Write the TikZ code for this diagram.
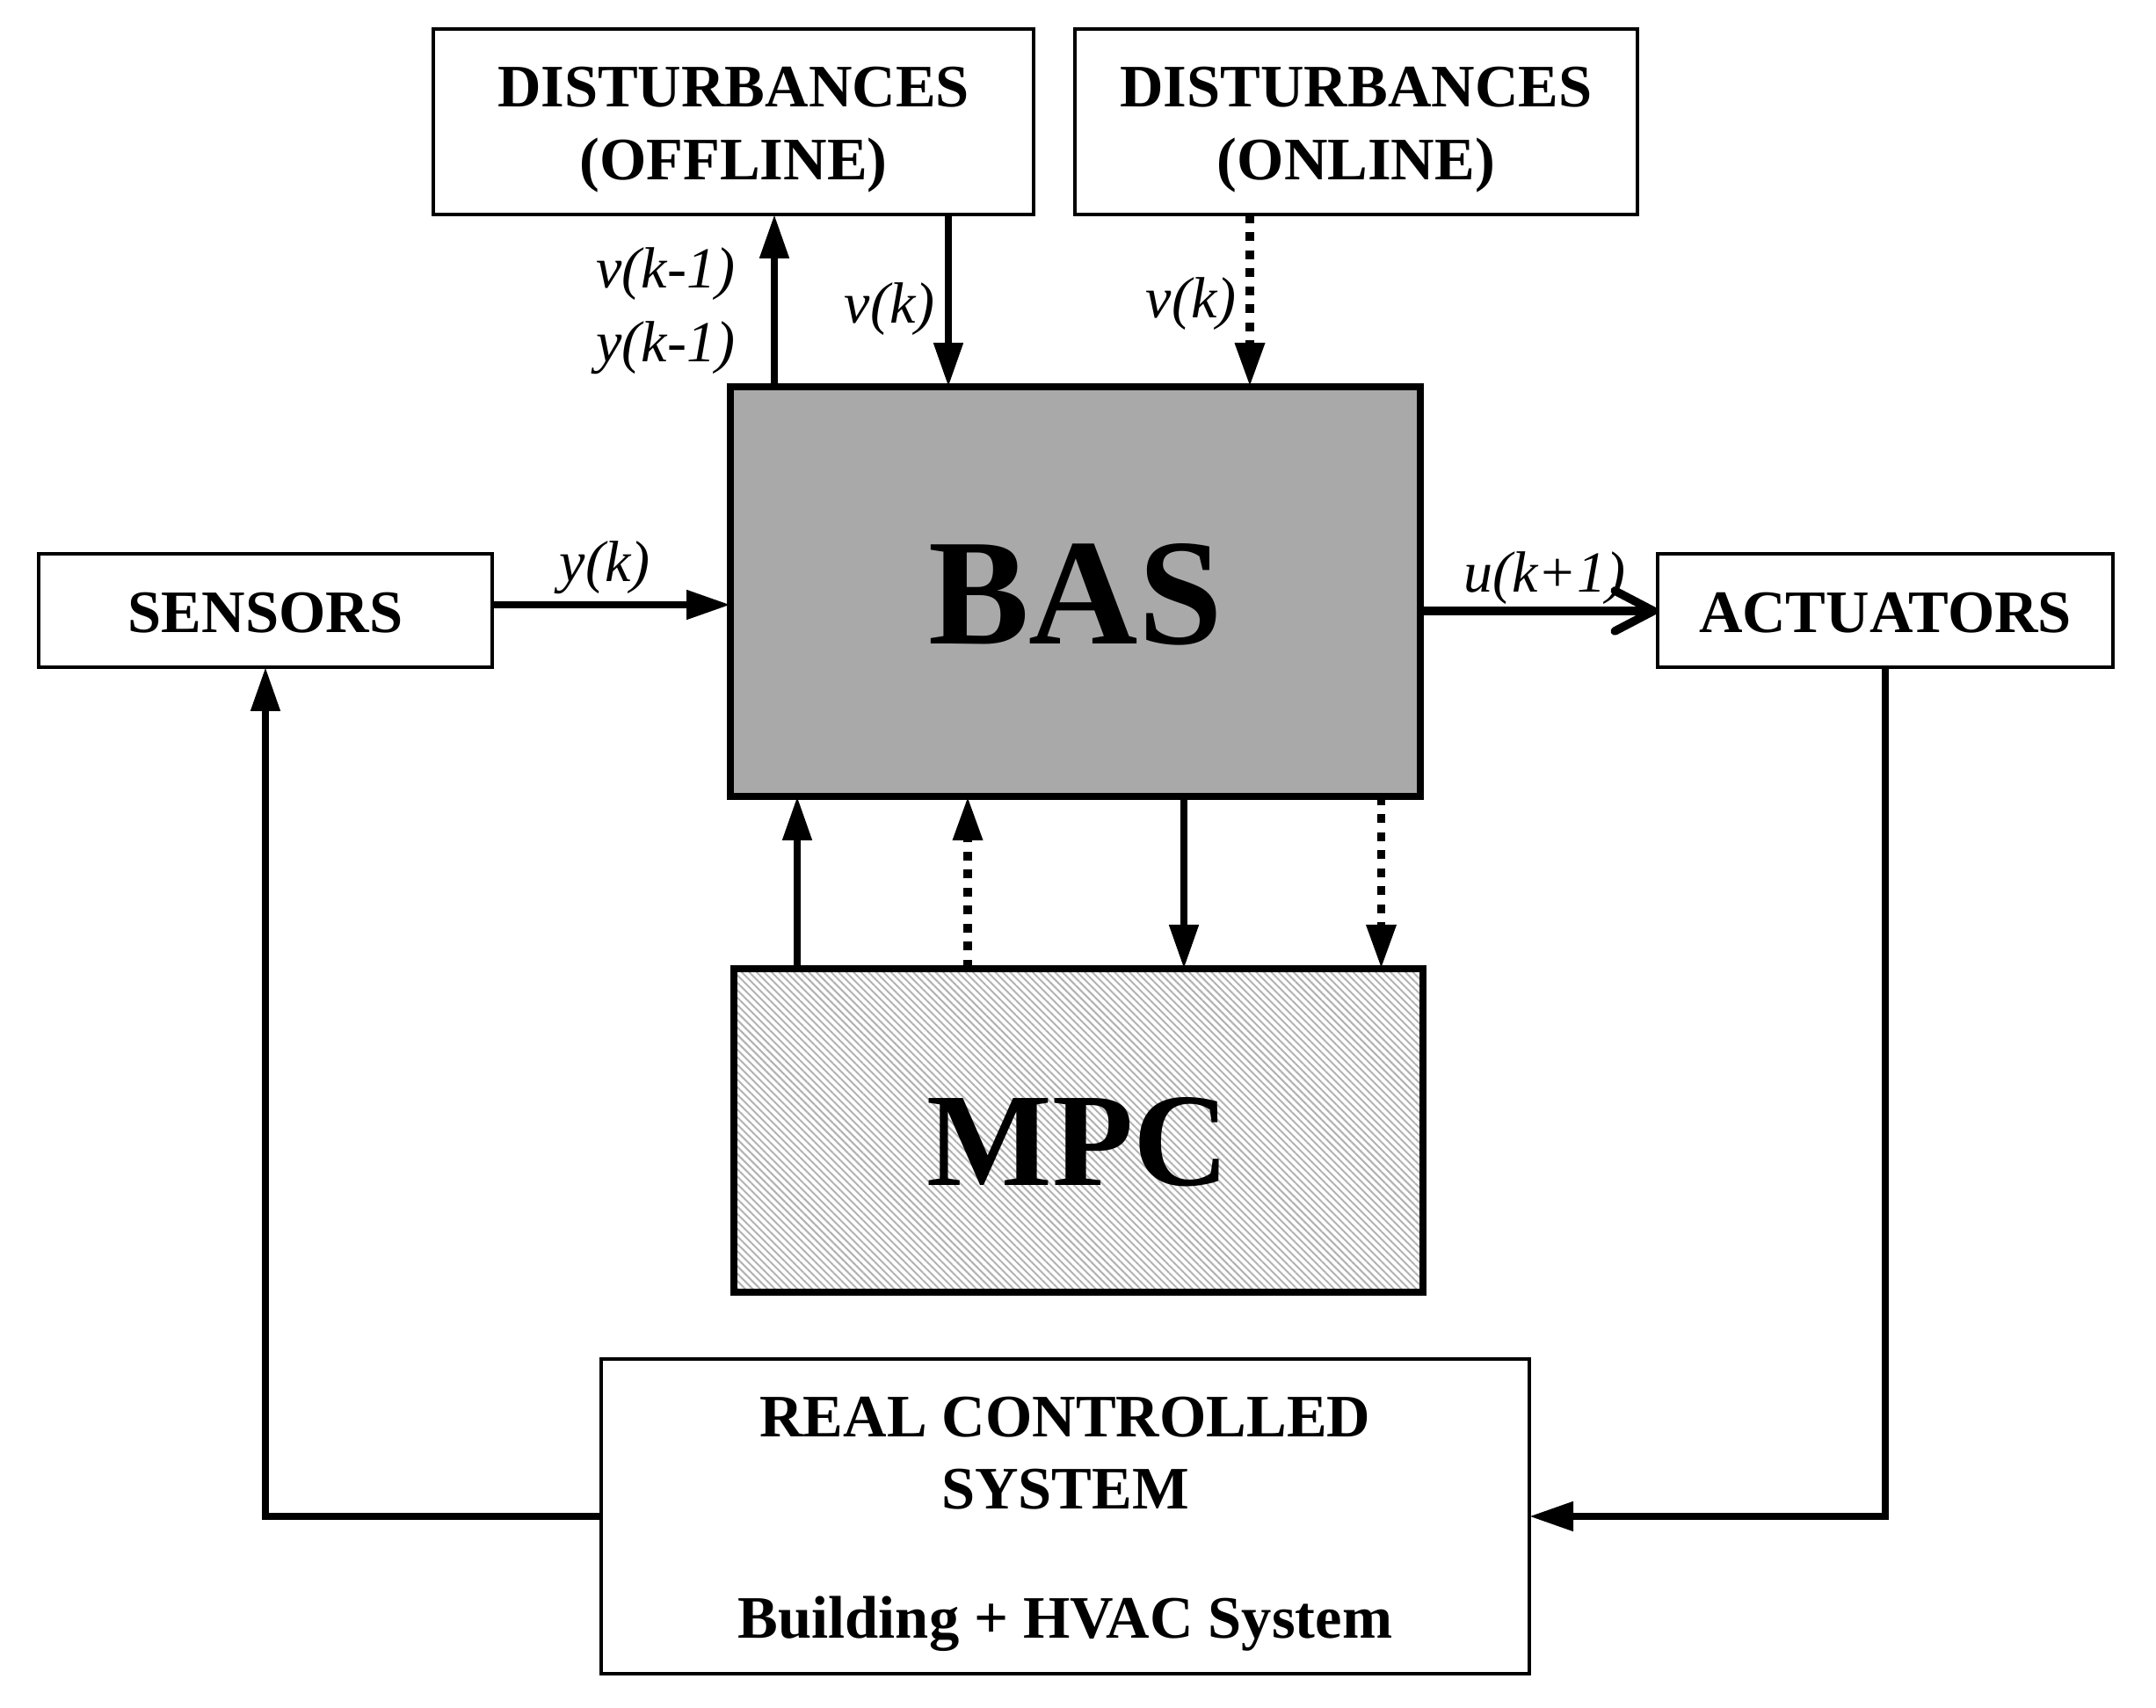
\documentclass[tikz,border=0pt]{standalone}
\usepackage{fontspec}
\setmainfont{Liberation Serif}
\usetikzlibrary{positioning,calc,patterns.meta,arrows.meta}

\tikzset{
    thinbox/.style={draw, line width=0.04cm, inner sep=0pt, outer sep=0pt, align=center, font=\fontsize{19.5}{23.6}\selectfont\bfseries},
    thickbox/.style={draw, line width=0.08cm, inner sep=0pt, outer sep=0pt, align=center},
    flow/.style={line width=0.08cm, -{Triangle[length=0.5cm,width=0.32cm]}},
    flowdot/.style={flow, line width=0.095cm, dash pattern=on 0.1cm off 0.105cm},
    sig/.style={font=\fontsize{18.8}{23}\selectfont\itshape, inner sep=0pt}
}
% pushes the text of a block down
\newcommand{\lowered}[1]{\rule{0pt}{#1}}

\begin{document}
\begin{tikzpicture}
    \useasboundingbox (0,0) rectangle (24.53,19.42);

    % Upper blocks
    \node[thinbox, minimum width=6.83cm, minimum height=2.11cm] (offline) at (8.345,18.035) {\lowered{0.63cm}DISTURBANCES\\(OFFLINE)};
    \node[thinbox, minimum width=6.40cm, minimum height=2.11cm] (online) at (15.43,18.035) {\lowered{0.63cm}DISTURBANCES\\(ONLINE)};
    \node[thinbox, minimum width=5.16cm, minimum height=1.29cm] (sensors) at (3.02,12.475) {\lowered{0.51cm}SENSORS};
    \node[thinbox, minimum width=5.18cm, minimum height=1.29cm] (actuators) at (21.45,12.475) {\lowered{0.51cm}ACTUATORS};

    % Controller blocks
    \node[thickbox, fill={rgb,255:red,169;green,169;blue,169}, minimum width=7.85cm, minimum height=4.66cm,
        font=\fontsize{49}{50}\selectfont\bfseries] (bas) at (12.235,12.69) {\lowered{1.2cm}BAS};
    \node[thickbox, pattern={Lines[angle=-45,distance=0.06cm,line width=0.02cm]}, pattern color=black!30,
        minimum width=7.84cm, minimum height=3.68cm,
        font=\fontsize{43}{44}\selectfont\bfseries] (mpc) at (12.27,6.56) {\lowered{1.27cm}MPC};
    \node[thinbox, minimum width=10.56cm, minimum height=3.58cm] (plant) at (12.12,2.17) {\lowered{0.63cm}REAL CONTROLLED\\SYSTEM\\[18.2pt]Building + HVAC System};

    % Positions of the arrows along the blocks
    \coordinate (xa) at (8.81,0);
    \coordinate (xb) at (10.79,0);
    \coordinate (xc) at (14.22,0);
    \coordinate (xd) at (9.07,0);
    \coordinate (xe) at (11.01,0);
    \coordinate (xf) at (13.47,0);
    \coordinate (xg) at (15.715,0);
    \coordinate (ys) at (0,12.54);
    \coordinate (yu) at (0,12.47);
    \coordinate (yr) at (0,2.17);

    \draw[flow] (bas.north -| xa) -- (offline.south -| xa);
    \draw[flow] (offline.south -| xb) -- (bas.north -| xb);
    \draw[flowdot] (online.south -| xc) -- (bas.north -| xc);

    \draw[flow] (mpc.north -| xd) -- (bas.south -| xd);
    \draw[flowdot] (mpc.north -| xe) -- (bas.south -| xe);
    \draw[flow] (bas.south -| xf) -- (mpc.north -| xf);
    \draw[flowdot] (bas.south -| xg) -- (mpc.north -| xg);

    \draw[flow] (sensors.east |- ys) -- (bas.west |- ys);
    \draw[line width=0.095cm, -{Straight Barb[length=0.44cm,width=0.46cm,round]}] (bas.east |- yu) -- (actuators.west |- yu);
    \draw[flow] (actuators.south) -- (actuators.south |- yr) -- (plant.east);
    \draw[flow] (plant.west) -- (plant.west -| sensors.south) -- (sensors.south);

    % Signals
    \node[sig, anchor=base east] (vprev) at (8.37,16.14) {v(k-1)};
    \node[sig, anchor=base east] (yprev) at (8.37,15.30) {y(k-1)};
    \node[sig, anchor=base] (vmeas) at (10.12,15.74) {v(k)};
    \node[sig, anchor=base] (vfore) at (13.55,15.80) {v(k)};
    \node[sig, anchor=base] (ynow) at (6.88,12.80) {y(k)};
    \node[sig, anchor=base] (unext) at (17.575,12.68) {u(k+1)};
\end{tikzpicture}
\end{document}
